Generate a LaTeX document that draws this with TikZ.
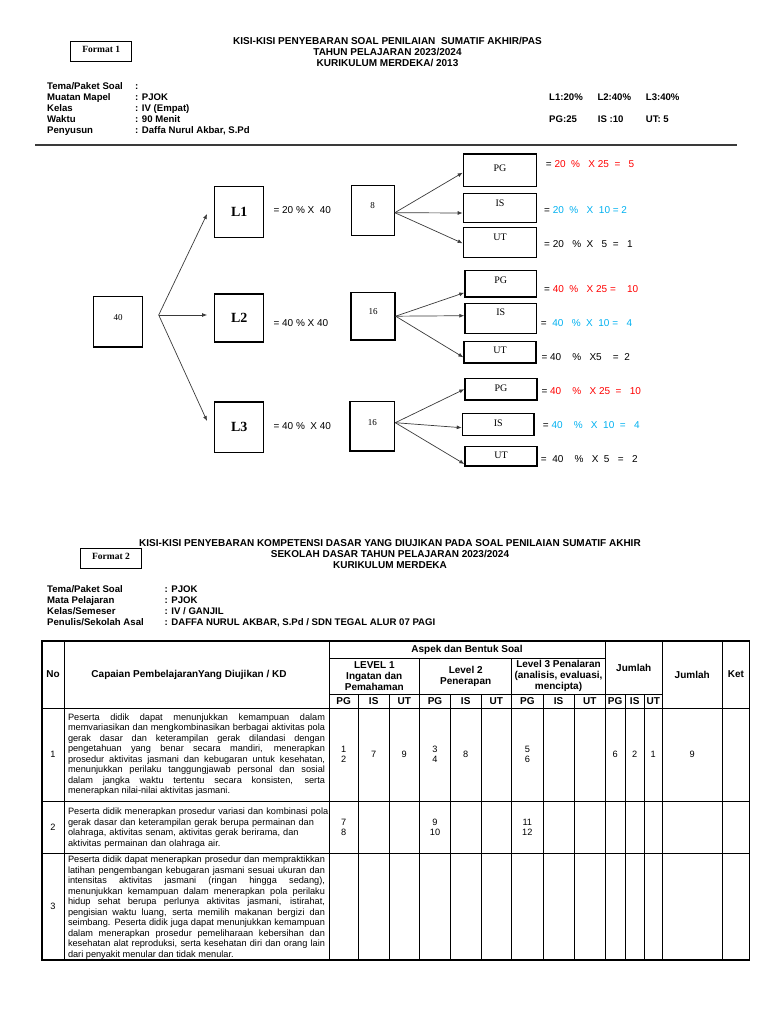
\documentclass[tikz,border=0pt]{standalone}
\usepackage{fontspec}
\setmainfont{Liberation Sans}
\newfontfamily\tnr{Liberation Serif}
\usepackage{tikz}
\usetikzlibrary{arrows.meta,positioning}
\definecolor{soalred}{HTML}{FF0000}
\definecolor{soalblue}{HTML}{00B0F0}
\definecolor{lineg}{HTML}{3A3A3A}
\tolerance=10000 \hbadness=10000 \hyphenpenalty=10000 \exhyphenpenalty=10000
\newcommand{\redtxt}[1]{\textcolor{soalred}{#1}}
\newcommand{\bluetxt}[1]{\textcolor{soalblue}{#1}}
\tikzset{
  fmt/.style={draw, line width=1pt, font=\tnr\bfseries\fontsize{9.5}{10}\selectfont,
    minimum width=61pt, minimum height=19.5pt, inner sep=0pt, text depth=4.6pt},
  title/.style={font=\bfseries\fontsize{10}{10.7}\selectfont, align=center, inner sep=0pt},
  info/.style={font=\bfseries\fontsize{9.6}{11}\selectfont, anchor=base west, inner sep=0pt},
  lvlbox/.style={draw, line width=1.3pt, inner sep=0pt, minimum width=49pt,
    font=\tnr\bfseries\fontsize{14}{14}\selectfont},
  numbox/.style={draw, line width=1.3pt, inner sep=0pt, font=\tnr\fontsize{9}{9}\selectfont},
  typebox/.style={draw, line width=1.3pt, inner sep=0pt, font=\tnr\fontsize{10}{10}\selectfont},
  eq/.style={font=\fontsize{10}{10}\selectfont, anchor=west, inner sep=0pt},
  arr/.style={-{Latex[length=5pt,width=4pt]}, line width=0.7pt, draw=lineg},
  tline/.style={line width=0.8pt},
  thd/.style={font=\bfseries\fontsize{10}{11}\selectfont, align=center, inner sep=0pt},
  tcell/.style={font=\fontsize{9.2}{10}\selectfont, align=center, inner sep=0pt},
  kd/.style={font=\fontsize{9.2}{10.5}\selectfont, text width=257pt, align=justify, inner sep=0pt},
  kdleft/.style={kd, text width=262pt, align=left}
}

\begin{document}
\begin{tikzpicture}[x=1pt, y=-1pt]
  \useasboundingbox (0,0) rectangle (768,1024);

  % Format 1 header
  \node[fmt] (fmt1) at (101.2,51.3) {Format 1};
  \node[title] (title1) at (387.5,52) {KISI-KISI PENYEBARAN SOAL PENILAIAN~ SUMATIF AKHIR/PAS\\TAHUN PELAJARAN 2023/2024\\KURIKULUM MERDEKA/ 2013};
  \foreach \k/\v [count=\i] in {{Tema/Paket Soal}/{:}, {Muatan Mapel}/{: PJOK}, {Kelas}/{: IV (Empat)}, {Waktu}/{: 90 Menit}, {Penyusun}/{: Daffa Nurul Akbar, S.Pd}}
    {\node[info] (ka\i) at (47,{78.5+11*\i}) {\k};
     \node[info] (va\i) at (135,{78.5+11*\i}) {\v};}
  \node[info] (pl1) at (549,100.5) {L1:20\%};
  \node[info] (pl2) at (597.3,100.5) {L2:40\%};
  \node[info] (pl3) at (645.7,100.5) {L3:40\%};
  \node[info] (ppg) at (549,122.5) {PG:25};
  \node[info] (pis) at (597.7,122.5) {IS :10};
  \node[info] (put) at (645.7,122.5) {UT: 5};
  \draw[line width=1.8pt, draw=lineg] (35,145) -- (737,145);

  % level split
  \node[numbox, minimum width=49.4pt, minimum height=50.3pt, text depth=8pt] (n40) at (118,321.8) {40};
  \coordinate (fork) at (158.7,315);
  \node[lvlbox, minimum height=51pt] (l1) at (239.2,212.2) {L1};
  \node[lvlbox, minimum height=48pt] (l2) at (239.2,318) {L2};
  \node[lvlbox, minimum height=50.3pt] (l3) at (239.2,427.2) {L3};
  \draw[arr] (fork) -- ([xshift=-7pt,yshift=-1.8pt]l1.west);
  \draw[arr] (fork) -- ([xshift=-7pt,yshift=3pt]l2.west);
  \draw[arr] (fork) -- ([xshift=-7pt,yshift=6.2pt]l3.west);
  \node[eq] (e1) at (273.3,210) {= 20 \% X~ 40};
  \node[eq] (e2) at (273.3,323) {= 40 \% X 40};
  \node[eq] (e3) at (273.3,425.7) {= 40 \%~ X 40};

  % question types
  \node[numbox, minimum width=43pt, minimum height=50pt, text depth=10pt] (n8) at (372.7,210.7) {8};
  \node[numbox, minimum width=44pt, minimum height=47.7pt, text depth=8.4pt] (n16a) at (373,316.2) {16};
  \node[numbox, minimum width=44.7pt, minimum height=49.3pt, text depth=7.2pt] (n16b) at (372.3,426.3) {16};
  \node[typebox, minimum width=73.4pt, minimum height=32.3pt, text depth=4.4pt] (pg1) at (500,170.2) {PG};
  \node[typebox, minimum width=73.4pt, minimum height=29pt, text depth=10.2pt] (is1) at (500,207.8) {IS};
  \node[typebox, minimum width=73.4pt, minimum height=30.4pt, text depth=10.4pt] (ut1) at (500,242.5) {UT};
  \node[typebox, minimum width=71.7pt, minimum height=26.7pt, text depth=7.4pt] (pg2) at (500.8,283.7) {PG};
  \node[typebox, minimum width=71.7pt, minimum height=30.4pt, text depth=13pt] (is2) at (500.8,318.5) {IS};
  \node[typebox, minimum width=72pt, minimum height=21.7pt, text depth=3pt] (ut2) at (500,352.2) {UT};
  \node[typebox, minimum width=72pt, minimum height=21.7pt, text depth=3pt] (pg3) at (501,389.2) {PG};
  \node[typebox, minimum width=71.7pt, minimum height=22.4pt, text depth=2.4pt] (is3) at (498.2,424.5) {IS};
  \node[typebox, minimum width=72pt, minimum height=19.3pt, text depth=2pt] (ut3) at (501,456.3) {UT};
  \draw[arr] ([yshift=-2pt]n8.east) -- ([yshift=-2.5pt]pg1.west);
  \draw[arr] ([yshift=-2pt]n8.east) -- ([yshift=-5.2pt]is1.west);
  \draw[arr] ([yshift=-2pt]n8.east) -- ([yshift=-0.8pt]ut1.west);
  \draw[arr] (n16a.east) -- ([yshift=-9pt]pg2.west);
  \draw[arr] (n16a.east) -- ([yshift=2.8pt]is2.west);
  \draw[arr] (n16a.east) -- ([yshift=-5.1pt]ut2.west);
  \draw[arr] ([yshift=3.6pt]n16b.east) -- (pg3.west);
  \draw[arr] ([yshift=3.6pt]n16b.east) -- ([yshift=-3.2pt]is3.west);
  \draw[arr] ([yshift=3.6pt]n16b.east) -- ([yshift=-7.7pt]ut3.west);
  \node[eq] (q1) at (545.7,164.3) {= \redtxt{20~ \%~~ X 25~ =~~ 5}};
  \node[eq] (q2) at (544,210) {= \bluetxt{20~ \%~~ X~ 10 = 2}};
  \node[eq] (q3) at (544,244) {= 20~~ \%~ X~~ 5~ =~~ 1};
  \node[eq] (q4) at (544,289) {= \redtxt{40~ \%~~ X 25 =~~~ 10}};
  \node[eq] (q5) at (540.7,323) {=~ \bluetxt{40~~ \%~ X~ 10 =~~ 4}};
  \node[eq] (q6) at (541.3,357.3) {= 40~~~ \%~~ X5~~~ =~ 2};
  \node[eq] (q7) at (541.3,391.3) {= \redtxt{40~~~ \%~~ X 25~ =~~ 10}};
  \node[eq] (q8) at (542.7,425.3) {= \bluetxt{40~~~ \%~~ X~ 10~ =~~ 4}};
  \node[eq] (q9) at (540.7,459.3) {=~ 40~~~ \%~~ X~ 5~~ =~~ 2};

  % Format 2 header
  \node[fmt, text depth=5pt] (fmt2) at (111,558.5) {Format 2};
  \node[title] (title2) at (390,554) {KISI-KISI PENYEBARAN KOMPETENSI DASAR YANG DIUJIKAN PADA SOAL PENILAIAN SUMATIF AKHIR\\SEKOLAH DASAR TAHUN PELAJARAN 2023/2024\\KURIKULUM MERDEKA};
  \foreach \k/\v [count=\i] in {{Tema/Paket Soal}/{: PJOK}, {Mata Pelajaran}/{: PJOK}, {Kelas/Semeser}/{: IV / GANJIL}, {Penulis/Sekolah Asal}/{: DAFFA NURUL AKBAR, S.Pd / SDN TEGAL ALUR 07 PAGI}}
    {\node[info] (kb\i) at (47,{581.4+11*\i}) {\k};
     \node[info] (vb\i) at (164.5,{581.4+11*\i}) {\v};}

  % table grid
  \draw[line width=1.2pt] (42,641) rectangle (749.4,960);
  \foreach \x in {64,329,605.5,662,722.5} \draw[tline] (\x,641) -- (\x,960);
  \foreach \x in {419.7,511.7} \draw[tline] (\x,658) -- (\x,960);
  \foreach \x in {358.5,389,450.4,481,543,574,625,644.5} \draw[tline] (\x,694) -- (\x,960);
  \draw[tline] (329,658) -- (605.5,658);
  \draw[tline] (329,694) -- (662,694);
  \foreach \y in {708,801,853} \draw[tline] (42,\y) -- (749.4,\y);

  % table head
  \node[thd] (hno) at (53,674.5) {No};
  \node[thd] (hkd) at (189,674.5) {Capaian PembelajaranYang Diujikan / KD};
  \node[thd] (hasp) at (467,650) {Aspek dan Bentuk Soal};
  \node[thd] (hlv1) at (374.3,676) {LEVEL 1\\Ingatan dan\\Pemahaman};
  \node[thd] (hlv2) at (465.7,676) {Level 2\\Penerapan};
  \node[thd] (hlv3) at (558.5,676) {Level 3 Penalaran\\(analisis, evaluasi,\\mencipta)};
  \node[thd] (hsum) at (633.7,667.5) {Jumlah};
  \node[thd] (htot) at (692.2,674.5) {Jumlah};
  \node[thd] (hket) at (736,674.5) {Ket};
  \foreach \x/\lab [count=\i] in {343.7/PG,373.7/IS,404.3/UT,435/PG,465.7/IS,496.3/UT,527.3/PG,558.5/IS,589.7/UT,615.2/PG,634.7/IS,653.2/UT}
    \node[thd] (hs\i) at (\x,701) {\lab};

  % row 1
  \node[tcell] (no1) at (53,754.5) {1};
  \node[kd] (kd1) at (196.5,754.5) {Peserta didik dapat menunjukkan kemampuan dalam\linebreak
    memvariasikan dan mengkombinasikan berbagai aktivitas pola\linebreak
    gerak dasar dan keterampilan gerak dilandasi dengan\linebreak
    pengetahuan yang benar secara mandiri, menerapkan\linebreak
    prosedur aktivitas jasmani dan kebugaran untuk kesehatan,\linebreak
    menunjukkan perilaku tanggungjawab personal dan sosial\linebreak
    dalam jangka waktu tertentu secara konsisten, serta\linebreak
    menerapkan nilai-nilai aktivitas jasmani.};
  \foreach \x/\lab [count=\i] in {343.7/{1\\2},373.7/7,404.3/9,435/{3\\4},465.7/8,527.3/{5\\6},615.2/6,634.7/2,653.2/1,692.2/9}
    \node[tcell] (ra\i) at (\x,754.5) {\lab};

  % row 2
  \node[tcell] (no2) at (53,827) {2};
  \node[kdleft] (kd2) at (199,828) {Peserta didik menerapkan prosedur variasi dan kombinasi pola\\
    gerak dasar dan keterampilan gerak berupa permainan dan\\
    olahraga, aktivitas senam, aktivitas gerak berirama, dan\\
    aktivitas permainan dan olahraga air.};
  \foreach \x/\lab [count=\i] in {343.7/{7\\8},435/{9\\10},527.3/{11\\12}}
    \node[tcell] (rb\i) at (\x,827) {\lab};

  % row 3
  \node[tcell] (no3) at (53,906.5) {3};
  \node[kd] (kd3) at (196.5,907.5) {Peserta didik dapat menerapkan prosedur dan mempraktikkan\linebreak
    latihan pengembangan kebugaran jasmani sesuai ukuran dan\linebreak
    intensitas aktivitas jasmani (ringan hingga sedang),\linebreak
    menunjukkan kemampuan dalam menerapkan pola perilaku\linebreak
    hidup sehat berupa perlunya aktivitas jasmani, istirahat,\linebreak
    pengisian waktu luang, serta memilih makanan bergizi dan\linebreak
    seimbang. Peserta didik juga dapat menunjukkan kemampuan\linebreak
    dalam menerapkan prosedur pemeliharaan kebersihan dan\linebreak
    kesehatan alat reproduksi, serta kesehatan diri dan orang lain\linebreak
    dari penyakit menular dan tidak menular.};
\end{tikzpicture}
\end{document}
